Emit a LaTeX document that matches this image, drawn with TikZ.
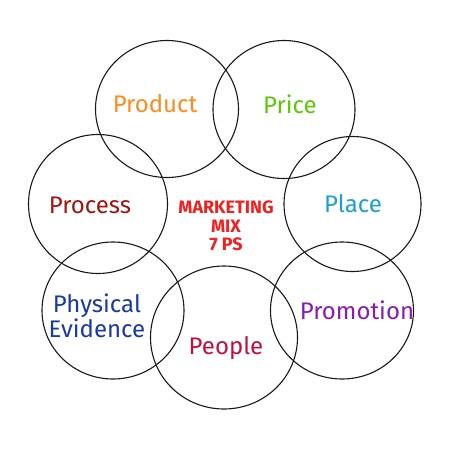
\documentclass[tikz,border=0pt]{standalone}
\usepackage{fontspec}
\setmainfont{Fira Sans}
\definecolor{prodorange}{HTML}{FF8A1E}
\definecolor{pricegreen}{HTML}{5CC80A}
\definecolor{procred}{HTML}{A2140F}
\definecolor{placeblue}{HTML}{1C9ED8}
\definecolor{mixred}{HTML}{F42020}
\definecolor{evidblue}{HTML}{1A3AA0}
\definecolor{promopurple}{HTML}{8A1AB4}
\definecolor{peoplecrimson}{HTML}{C2103E}
\tikzset{
  ring/.style={draw=black!90, line width=1.1pt},
  plabel/.style={font=\fontsize{24}{23}\selectfont, align=center, inner sep=0pt}
}
\begin{document}
\begin{tikzpicture}[x=1pt,y=-1pt]
    \useasboundingbox[fill=white] (0,0) rectangle (450,450);

    % the seven rings
    \draw[ring] (167,109) ellipse (71.5 and 68.5);
    \draw[ring] (284,109.5) ellipse (71 and 69);
    \draw[ring] (98,204) ellipse (69.5 and 69.5);
    \draw[ring] (352.5,204) ellipse (68.5 and 67.5);
    \draw[ring] (113,310.5) ellipse (71 and 68.5);
    \draw[ring] (224,337.5) ellipse (73.5 and 71.5);
    \draw[ring] (342,310.5) ellipse (71.5 and 68.5);

    \node[plabel, text=prodorange] (product) at (155,104) {Product};
    \node[plabel, text=pricegreen] (price) at (290,104) {Price};
    \node[plabel, text=procred] (process) at (90,205) {Process};
    \node[plabel, text=placeblue] (place) at (353,204) {Place};
    \node[plabel, text=mixred, font=\bfseries\fontsize{18}{18.5}\selectfont] (mix) at (226,226) {MARKETING\\MIX\\7 PS};
    \node[plabel, text=evidblue] (evidence) at (97,316) {Physical\\Evidence};
    \node[plabel, text=promopurple] (promotion) at (357,310) {Promotion};
    \node[plabel, text=peoplecrimson] (people) at (226,348) {People};
\end{tikzpicture}
\end{document}
